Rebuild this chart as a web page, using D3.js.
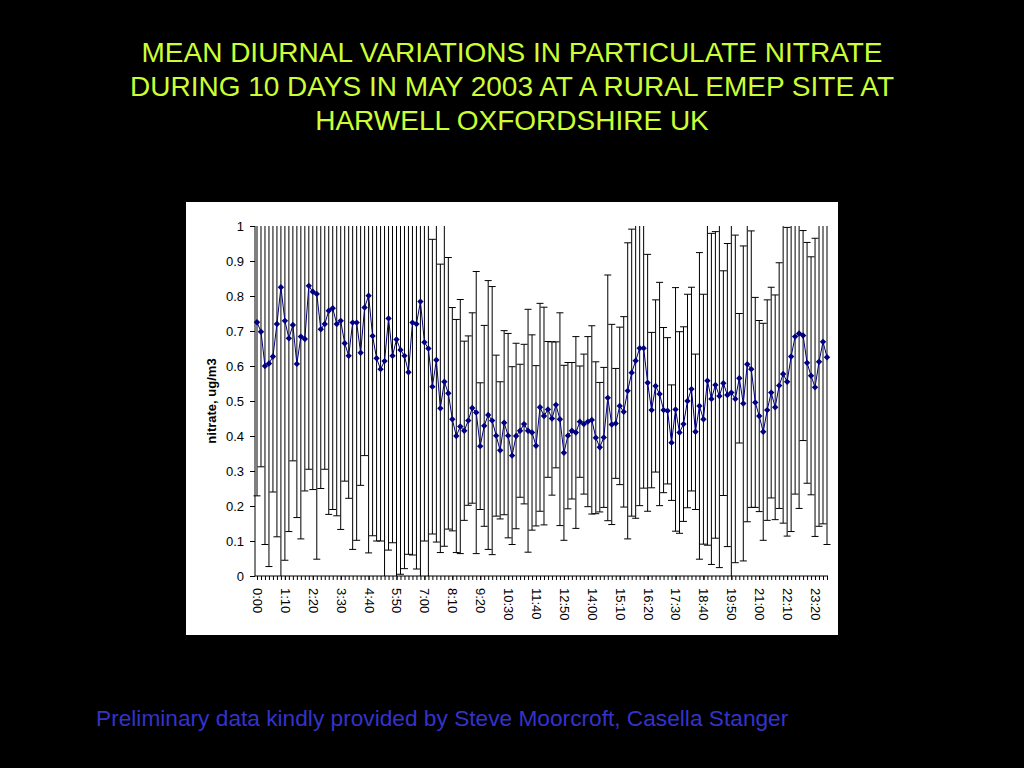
<!DOCTYPE html>
<html>
<head>
<meta charset="utf-8">
<script src="https://cdn.jsdelivr.net/npm/d3@7"></script>
<style>
  body { margin: 0; background: #000; }
  svg { display: block; }
</style>
</head>
<body>
<script>
const width = 1024, height = 768;

// title and footer text
const titleLines = [
  "MEAN DIURNAL VARIATIONS IN PARTICULATE NITRATE",
  "DURING 10 DAYS IN MAY 2003 AT A RURAL EMEP SITE AT",
  "HARWELL OXFORDSHIRE UK"
];
const footer = "Preliminary data kindly provided by Steve Moorcroft, Casella Stanger";

// 10 minute time slots 0:00 .. 23:50
const times = d3.range(144).map(i => Math.floor(i / 6) + ":" + String((i % 6) * 10).padStart(2, "0"));
const tickLabels = ["0:00", "1:10", "2:20", "3:30", "4:40", "5:50", "7:00", "8:10", "9:20", "10:30",
  "11:40", "12:50", "14:00", "15:10", "16:20", "17:30", "18:40", "19:50", "21:00", "22:10", "23:20"];
const yTicks = [0, 0.1, 0.2, 0.3, 0.4, 0.5, 0.6, 0.7, 0.8, 0.9, 1];

// mean nitrate, ug/m3
const meanNitrate = [
  0.725, 0.698, 0.600, 0.607, 0.627, 0.720, 0.825, 0.729, 0.679, 0.717,
  0.606, 0.684, 0.677, 0.829, 0.812, 0.806, 0.705, 0.720, 0.758, 0.765,
  0.720, 0.729, 0.665, 0.629, 0.724, 0.724, 0.638, 0.767, 0.801, 0.686,
  0.622, 0.591, 0.614, 0.736, 0.629, 0.676, 0.646, 0.629, 0.582, 0.724,
  0.720, 0.784, 0.668, 0.650, 0.541, 0.617, 0.479, 0.555, 0.522, 0.448,
  0.400, 0.427, 0.415, 0.444, 0.480, 0.467, 0.371, 0.429, 0.460, 0.444,
  0.401, 0.359, 0.438, 0.401, 0.344, 0.400, 0.415, 0.434, 0.415, 0.410,
  0.372, 0.482, 0.457, 0.476, 0.450, 0.489, 0.448, 0.352, 0.401, 0.415,
  0.410, 0.441, 0.434, 0.441, 0.446, 0.395, 0.368, 0.396, 0.509, 0.433,
  0.436, 0.486, 0.469, 0.529, 0.581, 0.615, 0.651, 0.651, 0.552, 0.474,
  0.543, 0.520, 0.474, 0.472, 0.381, 0.476, 0.410, 0.434, 0.500, 0.534,
  0.412, 0.486, 0.448, 0.558, 0.506, 0.546, 0.514, 0.551, 0.517, 0.524,
  0.506, 0.565, 0.493, 0.605, 0.591, 0.496, 0.457, 0.412, 0.474, 0.524,
  0.482, 0.544, 0.577, 0.555, 0.627, 0.684, 0.693, 0.687, 0.609, 0.572,
  0.539, 0.612, 0.669, 0.625
];

// +/- error (standard deviation)
const sdNitrate = [
  0.496, 0.386, 0.510, 0.580, 0.387, 0.608, 0.900, 0.684, 0.552, 0.388,
  0.439, 0.578, 0.434, 0.524, 0.565, 0.758, 0.455, 0.415, 0.582, 0.575,
  0.548, 0.596, 0.394, 0.407, 0.648, 0.622, 0.379, 0.423, 0.735, 0.571,
  0.522, 0.491, 0.700, 0.662, 0.534, 0.750, 0.641, 0.608, 0.520, 0.664,
  0.700, 0.820, 0.568, 0.700, 0.421, 0.520, 0.412, 0.470, 0.388, 0.319,
  0.333, 0.363, 0.256, 0.242, 0.272, 0.403, 0.181, 0.287, 0.384, 0.383,
  0.230, 0.196, 0.263, 0.292, 0.254, 0.265, 0.190, 0.228, 0.347, 0.279,
  0.229, 0.297, 0.311, 0.194, 0.219, 0.180, 0.304, 0.250, 0.209, 0.195,
  0.274, 0.159, 0.200, 0.243, 0.269, 0.217, 0.185, 0.200, 0.351, 0.286,
  0.157, 0.225, 0.272, 0.423, 0.410, 0.450, 0.450, 0.400, 0.367, 0.222,
  0.246, 0.319, 0.236, 0.209, 0.165, 0.348, 0.288, 0.278, 0.305, 0.291,
  0.222, 0.438, 0.357, 0.470, 0.473, 0.438, 0.490, 0.321, 0.433, 0.600,
  0.468, 0.185, 0.450, 0.450, 0.395, 0.300, 0.273, 0.310, 0.315, 0.301,
  0.321, 0.351, 0.426, 0.441, 0.500, 0.450, 0.500, 0.300, 0.344, 0.340,
  0.426, 0.470, 0.520, 0.535
];

const data = meanNitrate.map((m, i) => ({ t: times[i], mean: m, sd: sdNitrate[i] }));

const font = "Liberation Sans, Arial, sans-serif";

const svg = d3.select("body").append("svg")
    .attr("width", width)
    .attr("height", height)
    .style("background", "#000");

svg.append("g")
    .selectAll("text")
    .data(titleLines)
    .enter().append("text")
    .attr("x", 512)
    .attr("y", (d, i) => 62 + i * 34)
    .attr("text-anchor", "middle")
    .attr("fill", "#ccff33")
    .style("font-family", font)
    .style("font-size", "28px")
    .text(d => d);

svg.append("text")
    .attr("x", 96)
    .attr("y", 726)
    .attr("fill", "#3333cc")
    .style("font-family", font)
    .style("font-size", "22.7px")
    .text(footer);

// white chart panel
svg.append("rect")
    .attr("x", 186)
    .attr("y", 202)
    .attr("width", 652)
    .attr("height", 433)
    .attr("fill", "#fff");

const x = d3.scalePoint().domain(times).range([257, 827]);
const y = d3.scaleLinear().domain([0, 1]).range([576, 226]);

svg.append("defs").append("clipPath")
    .attr("id", "plot-clip")
    .append("rect")
    .attr("x", 250).attr("y", 226)
    .attr("width", 590).attr("height", 350);

const g = svg.append("g").attr("clip-path", "url(#plot-clip)");

// error bars
const bars = g.selectAll(".err")
    .data(data)
    .enter().append("g")
    .attr("class", "err")
    .attr("stroke", "#000")
    .attr("stroke-width", 1);

bars.append("line")
    .attr("x1", d => x(d.t)).attr("x2", d => x(d.t))
    .attr("y1", d => y(Math.min(1, d.mean + d.sd)))
    .attr("y2", d => y(Math.max(0, d.mean - d.sd)));

bars.filter(d => d.mean + d.sd < 1).append("line")
    .attr("x1", d => x(d.t) - 3.5).attr("x2", d => x(d.t) + 3.5)
    .attr("y1", d => y(d.mean + d.sd)).attr("y2", d => y(d.mean + d.sd));

bars.filter(d => d.mean - d.sd > 0).append("line")
    .attr("x1", d => x(d.t) - 3.5).attr("x2", d => x(d.t) + 3.5)
    .attr("y1", d => y(d.mean - d.sd)).attr("y2", d => y(d.mean - d.sd));

// mean line with diamond markers
const line = d3.line().x(d => x(d.t)).y(d => y(d.mean));

g.append("path")
    .datum(data)
    .attr("fill", "none")
    .attr("stroke", "#000080")
    .attr("stroke-width", 1)
    .attr("d", line);

g.selectAll(".marker")
    .data(data)
    .enter().append("path")
    .attr("class", "marker")
    .attr("transform", d => `translate(${x(d.t)},${y(d.mean)})`)
    .attr("d", "M0,-3.2L3.2,0L0,3.2L-3.2,0Z")
    .attr("fill", "#000080");

// axes
const yAxis = svg.append("g")
    .attr("transform", "translate(255,0)")
    .call(d3.axisLeft(y).tickValues(yTicks).tickSize(5).tickPadding(6).tickFormat(d3.format("")));

const xMinor = svg.append("g")
    .attr("transform", "translate(0,576)")
    .call(d3.axisBottom(x).tickSize(4).tickFormat(""));

const xAxis = svg.append("g")
    .attr("transform", "translate(0,576)")
    .call(d3.axisBottom(x).tickValues(tickLabels).tickSize(4));

[yAxis, xMinor, xAxis].forEach(a => {
  a.select(".domain").remove();
  a.selectAll("line").attr("stroke", "#000");
  a.selectAll("text")
      .attr("fill", "#000")
      .style("font-family", font)
      .style("font-size", "13px");
});

xAxis.selectAll("text")
    .attr("transform", "rotate(90)")
    .attr("x", 12)
    .attr("y", 0)
    .attr("dy", "0.35em")
    .style("text-anchor", "start");

yAxis.append("line").attr("x1", 0).attr("x2", 0).attr("y1", 226).attr("y2", 576).attr("stroke", "#000");
xMinor.append("line").attr("x1", 255).attr("x2", 828).attr("y1", 0).attr("y2", 0).attr("stroke", "#000");

svg.append("text")
    .attr("transform", "translate(216,401) rotate(-90)")
    .attr("text-anchor", "middle")
    .attr("fill", "#000")
    .style("font-family", font)
    .style("font-size", "13px")
    .style("font-weight", "bold")
    .text("nitrate, ug/m3");
</script>
</body>
</html>
